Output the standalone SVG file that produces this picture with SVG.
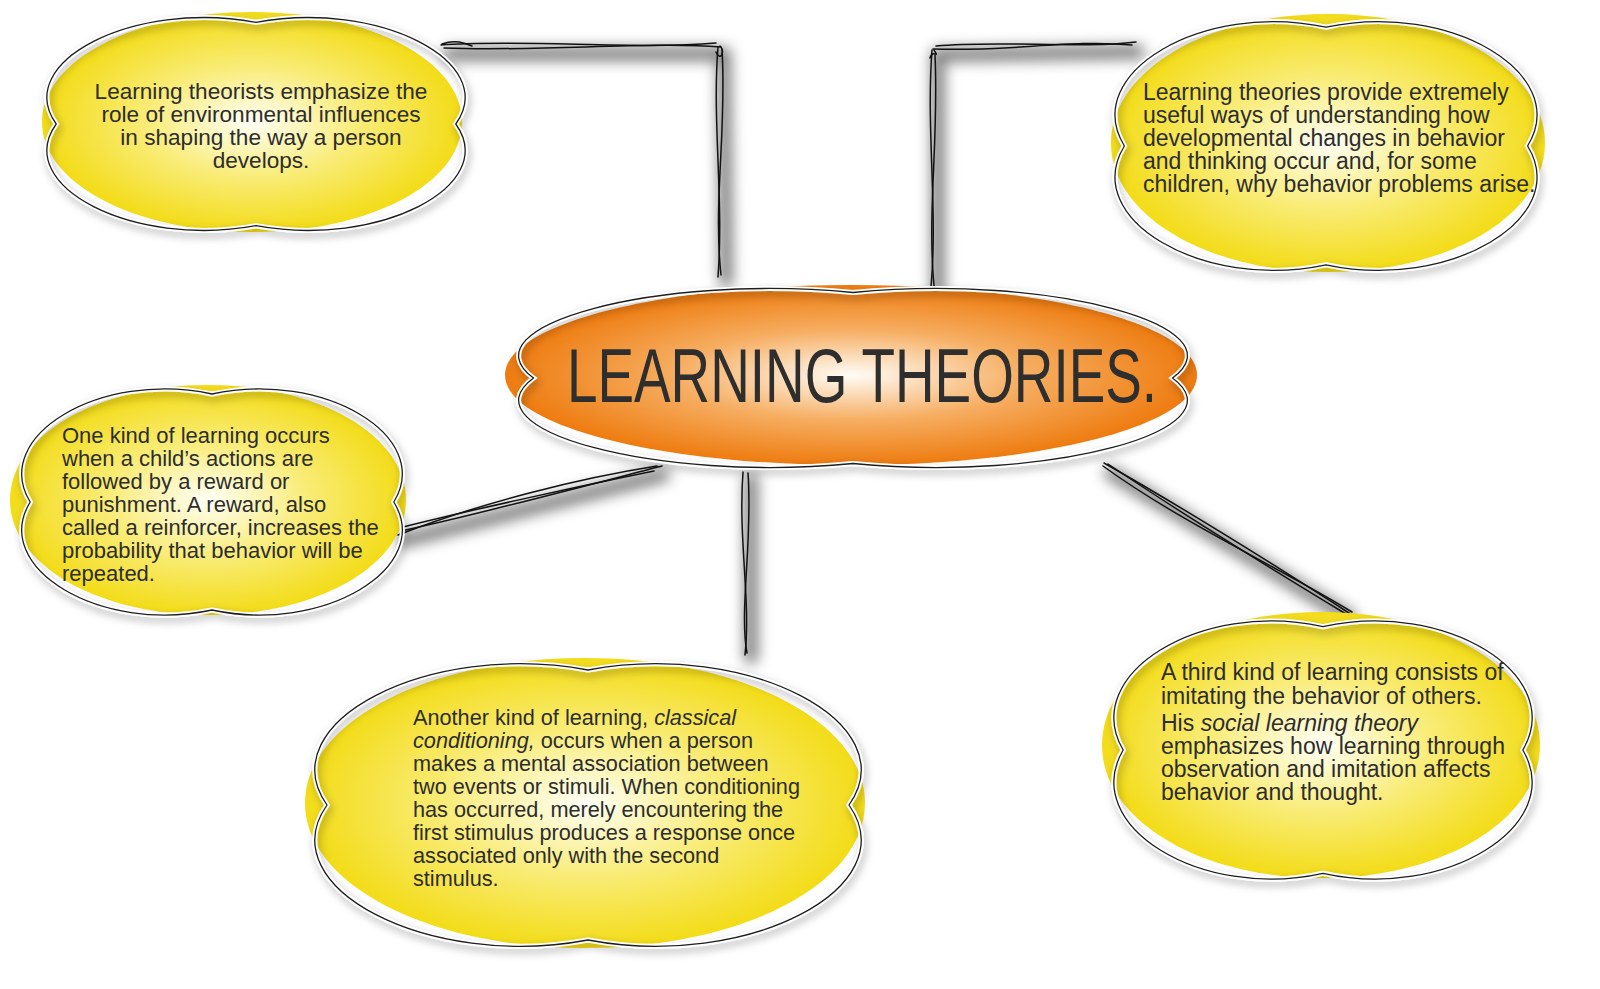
<svg xmlns="http://www.w3.org/2000/svg" width="1600" height="989" viewBox="0 0 1600 989">
<defs>
  <radialGradient id="gy" cx="0.5" cy="0.5" r="0.5">
    <stop offset="0" stop-color="#fffff6"/>
    <stop offset="0.5" stop-color="#f9ec78"/>
    <stop offset="1" stop-color="#f3dc18"/>
  </radialGradient>
  <radialGradient id="go" cx="0.5" cy="0.5" r="0.5">
    <stop offset="0" stop-color="#fffcf6"/>
    <stop offset="0.5" stop-color="#f6ae62"/>
    <stop offset="1" stop-color="#ee7c10"/>
  </radialGradient>
  <filter id="sh" x="-20%" y="-20%" width="140%" height="140%">
    <feDropShadow dx="2" dy="4" stdDeviation="4" flood-color="#000" flood-opacity="0.3"/>
  </filter>
  <filter id="blur" filterUnits="userSpaceOnUse" x="0" y="0" width="1600" height="989">
    <feGaussianBlur stdDeviation="7"/>
  </filter>
  <path id="fillShape" d="M1,0 C1,0.56 0.56,1 0,1 C-0.56,1 -1,0.56 -1,0 C-1,-0.56 -0.56,-1 0,-1 C0.56,-1 1,-0.56 1,0 Z"/>
  <path id="lineShape" vector-effect="non-scaling-stroke" d="M0.9,0 C1.1,0.55 0.55,1.1 0,0.9 C-0.55,1.1 -1.1,0.55 -0.9,0 C-1.1,-0.55 -0.55,-1.1 0,-0.9 C0.55,-1.1 1.1,-0.55 0.9,0 Z"/>
</defs>
<style>
  .fy { fill: url(#gy); }
  .fo { fill: url(#go); }
  .ow { fill: none; stroke: #ffffff; stroke-width: 5; }
  .ob { fill: none; stroke: #1e1e1e; stroke-width: 1.3; }
  .t { font-family: "Liberation Sans", Arial, sans-serif; font-size: 22px; fill: #2d2d2d; }
  .c { text-anchor: middle; }
  .i { font-style: italic; }
  .title { font-family: "Liberation Sans", Arial, sans-serif; font-size: 76px; fill: #2e2e2e; }
  .cn path { fill: none; stroke: #111; stroke-width: 1.5; stroke-linecap: round; }
  .cs path { fill: none; stroke: #000; stroke-opacity: 0.5; stroke-width: 14; stroke-linecap: round; stroke-linejoin: round; }
</style>
<rect width="1600" height="989" fill="#ffffff"/>

<g id="connector-shadows" class="cs" filter="url(#blur)">
  <path d="M450,54 L724,54 L726,280"/>
  <path d="M1138,52 L938,55 L938,290"/>
  <path d="M405,540 L663,475"/>
  <path d="M751,480 L751,657"/>
  <path d="M1111,473 L1350,618"/>
</g>

<g id="connectors" class="cn">
  <path d="M441,45 C520,39 640,50 716,43"/>
  <path d="M444,48 C540,52 650,41 721,47"/>
  <path d="M442,44 C455,39 465,43 472,46"/>
  <path d="M718,47 C712,120 724,200 718,277"/>
  <path d="M722,49 C727,130 713,200 721,275"/>
  <path d="M716,52 C720,62 726,52 720,46"/>
  <path d="M936,46 C1000,40 1080,49 1136,42"/>
  <path d="M933,49 C1010,52 1070,39 1132,45"/>
  <path d="M932,50 C926,130 938,210 931,287"/>
  <path d="M935,55 C939,140 927,210 934,286"/>
  <path d="M930,58 C933,48 940,60 934,50"/>
  <path d="M398,535 C480,503 580,478 657,466"/>
  <path d="M401,531 C480,514 600,482 662,466"/>
  <path d="M399,528 C470,510 590,484 654,471"/>
  <path d="M743,472 C738,540 751,600 745,655"/>
  <path d="M748,473 C753,540 739,610 747,653"/>
  <path d="M1104,463 C1180,506 1270,562 1349,613"/>
  <path d="M1108,464 C1190,519 1260,562 1346,614"/>
  <path d="M1103,466 C1180,522 1280,568 1352,612"/>
</g>

<g id="node-top-left">
  <use href="#fillShape" class="fy" transform="translate(252,122) scale(210,110)"/>
  <g filter="url(#sh)"><use href="#lineShape" class="ow" transform="translate(256,124) scale(222,113)"/></g>
  <use href="#lineShape" class="ob" transform="translate(256,124) scale(222,113)"/>
  <text class="t c" x="261" y="99" style="font-size:22.6px">Learning theorists emphasize the</text>
  <text class="t c" x="261" y="122" style="font-size:22.6px">role of environmental influences</text>
  <text class="t c" x="261" y="145" style="font-size:22.6px">in shaping the way a person</text>
  <text class="t c" x="261" y="168" style="font-size:22.6px">develops.</text>
</g>

<g id="node-top-right">
  <use href="#fillShape" class="fy" transform="translate(1328,143) scale(217,129)"/>
  <g filter="url(#sh)"><use href="#lineShape" class="ow" transform="translate(1326,146) scale(224,132)"/></g>
  <use href="#lineShape" class="ob" transform="translate(1326,146) scale(224,132)"/>
  <text class="t" x="1143" y="100" style="font-size:23px">Learning theories provide extremely</text>
  <text class="t" x="1143" y="123" style="font-size:23px">useful ways of understanding how</text>
  <text class="t" x="1143" y="146" style="font-size:23px">developmental changes in behavior</text>
  <text class="t" x="1143" y="169" style="font-size:23px">and thinking occur and, for some</text>
  <text class="t" x="1143" y="192" style="font-size:23px">children, why behavior problems arise.</text>
</g>

<g id="node-center">
  <use href="#fillShape" class="fo" transform="translate(851,375) scale(346,90)"/>
  <g filter="url(#sh)"><use href="#lineShape" class="ow" transform="translate(853,378) scale(355,95)"/></g>
  <use href="#lineShape" class="ob" transform="translate(853,378) scale(355,95)"/>
  <text class="title" x="567" y="402" textLength="590" lengthAdjust="spacingAndGlyphs">LEARNING THEORIES.</text>
</g>

<g id="node-left">
  <use href="#fillShape" class="fy" transform="translate(208,500) scale(198,115)"/>
  <g filter="url(#sh)"><use href="#lineShape" class="ow" transform="translate(212,502) scale(202,120)"/></g>
  <use href="#lineShape" class="ob" transform="translate(212,502) scale(202,120)"/>
  <text class="t" x="62" y="443">One kind of learning occurs</text>
  <text class="t" x="62" y="466">when a child’s actions are</text>
  <text class="t" x="62" y="489">followed by a reward or</text>
  <text class="t" x="62" y="512">punishment. A reward, also</text>
  <text class="t" x="62" y="535">called a reinforcer, increases the</text>
  <text class="t" x="62" y="558">probability that behavior will be</text>
  <text class="t" x="62" y="581">repeated.</text>
</g>

<g id="node-bottom">
  <use href="#fillShape" class="fy" transform="translate(585,803) scale(280,145)"/>
  <g filter="url(#sh)"><use href="#lineShape" class="ow" transform="translate(588,805) scale(290,150)"/></g>
  <use href="#lineShape" class="ob" transform="translate(588,805) scale(290,150)"/>
  <text class="t" x="413" y="725" style="font-size:21.7px">Another kind of learning, <tspan class="i">classical</tspan></text>
  <text class="t" x="413" y="748" style="font-size:21.7px"><tspan class="i">conditioning,</tspan> occurs when a person</text>
  <text class="t" x="413" y="771" style="font-size:21.7px">makes a mental association between</text>
  <text class="t" x="413" y="794" style="font-size:21.7px">two events or stimuli. When conditioning</text>
  <text class="t" x="413" y="817" style="font-size:21.7px">has occurred, merely encountering the</text>
  <text class="t" x="413" y="840" style="font-size:21.7px">first stimulus produces a response once</text>
  <text class="t" x="413" y="863" style="font-size:21.7px">associated only with the second</text>
  <text class="t" x="413" y="886" style="font-size:21.7px">stimulus.</text>
</g>

<g id="node-right">
  <use href="#fillShape" class="fy" transform="translate(1321,745) scale(219,133)"/>
  <g filter="url(#sh)"><use href="#lineShape" class="ow" transform="translate(1323,750) scale(222,137)"/></g>
  <use href="#lineShape" class="ob" transform="translate(1323,750) scale(222,137)"/>
  <text class="t" x="1161" y="680" style="font-size:23px">A third kind of learning consists of</text>
  <text class="t" x="1161" y="704" style="font-size:23px">imitating the behavior of others.</text>
  <text class="t" x="1161" y="731" style="font-size:23px">His <tspan class="i">social learning theory</tspan></text>
  <text class="t" x="1161" y="754" style="font-size:23px">emphasizes how learning through</text>
  <text class="t" x="1161" y="777" style="font-size:23px">observation and imitation affects</text>
  <text class="t" x="1161" y="800" style="font-size:23px">behavior and thought.</text>
</g>
</svg>
